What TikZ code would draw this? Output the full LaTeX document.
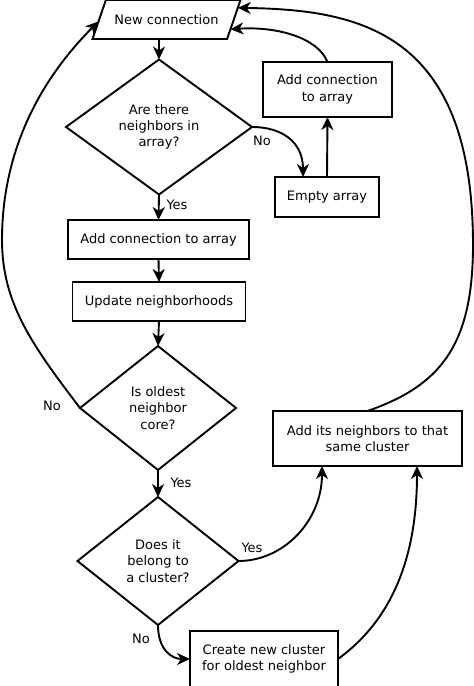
\documentclass[tikz,border=0pt]{standalone}
\usepackage{fontspec}
\setmainfont{DejaVu Sans}
\usetikzlibrary{shapes.geometric,arrows.meta,calc}
\begin{document}
\begin{tikzpicture}[x=1pt,y=-1pt, line width=1.9pt,
  every node/.style={font=\fontsize{13}{16.3}\selectfont, outer sep=0pt},
  box/.style={draw, rectangle, inner sep=0pt, align=center},
  dec/.style={draw, diamond, inner sep=0pt, align=center},
  conn/.style={-{Stealth[length=13pt,width=12pt,inset=4pt]}}]
\useasboundingbox (0,0) rectangle (474,686);
\fill[white] (0,0) rectangle (474,686);
% nodes
\node[minimum width=148pt, minimum height=39pt, inner sep=0pt] (nc) at (166.5,19.5) {New connection};
\coordinate (ncTL) at ($(nc.north west)+(13.4,0)$);
\coordinate (ncBR) at ($(nc.south east)+(-13.4,0)$);
\draw (nc.south west) -- (ncTL) -- (nc.north east) -- (ncBR) -- cycle;
\node[dec, minimum width=186pt, minimum height=135pt] (d1) at (159,127) {Are there\\neighbors in\\array?};
\node[box, minimum width=181pt, minimum height=39pt] (b1) at (158.5,239.5) {Add connection to array};
\node[box, minimum width=173pt, minimum height=39pt] (b2) at (159,301.5) {Update neighborhoods};
\node[dec, minimum width=156pt, minimum height=124pt] (d2) at (158,408) {Is oldest\\neighbor\\core?};
\node[dec, minimum width=161pt, minimum height=128pt] (d3) at (158,561) {Does it\\belong to\\a cluster?};
\node[box, minimum width=148pt, minimum height=56pt] (b3) at (264,659) {Create new cluster\\for oldest neighbor};
\node[box, minimum width=189pt, minimum height=55pt] (b4) at (367.5,438.5) {Add its neighbors to that\\same cluster};
\node[box, minimum width=104pt, minimum height=40pt] (b5) at (327,197) {Empty array};
\node[box, minimum width=129pt, minimum height=55pt] (b6) at (327.5,89.5) {Add connection\\to array};
% labels
\node (no1) at (262,141) {No};
\node (yes1) at (177,205) {Yes};
\node (no2) at (52,406) {No};
\node (yes2) at (181,483) {Yes};
\node (yes3) at (252,548) {Yes};
\node (no3) at (141,639) {No};
% helper coordinates
\coordinate (rmid) at (473,245);
\coordinate (lmid) at (2,240);
% connectors
\draw[conn] (d1.north |- nc.south) -- (d1.north);
\draw[conn] (d1.south) -- (b1.north);
\draw[conn] (b1.south) -- (b2.north);
\draw[conn] (b2.south) -- (d2.north);
\draw[conn] (d2.south) -- (d3.north);
\draw[conn] (d3.east) .. controls +(45,0) and +(0,55) .. ($(b4.south west)+(49,0)$);
\draw[conn] (b3.east) .. controls +(55,-40) and +(0,90) .. ($(b4.south west)+(144,0)$);
\draw[conn] (d3.south) .. controls +(0,25) and +(-18,0) .. (b3.west);
\draw[conn] (d1.east) .. controls +(30,0) and +(0,-35) .. ($(b5.north west)+(28,0)$);
\draw[conn] (b5.north) -- (b6.south);
\draw[conn] (b6.north) .. controls +(-10,-25) and +(45,-3) .. ($(ncBR)!0.25!(nc.north east)$);
\draw[conn] (b4.north) .. controls +(71.5,-25) and +(0,102) .. (rmid) .. controls +(0,-214) and +(121,2) .. ($(ncBR)!0.8!(nc.north east)$);
\draw[conn] (d2.west) .. controls +(-48,-63) and +(0,63) .. (lmid) .. controls +(0,-77.5) and +(-67.5,67.5) .. ($(nc.south west)!0.45!(ncTL)$);
\end{tikzpicture}
\end{document}
